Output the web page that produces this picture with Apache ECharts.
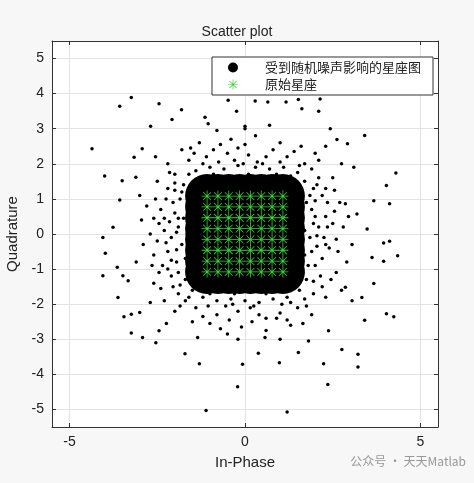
<!DOCTYPE html><html><head><meta charset="utf-8"><script src="https://cdn.jsdelivr.net/npm/echarts@6/dist/echarts.min.js"></script>
<style>html,body{margin:0;padding:0;background:#f7f7f7}#c{width:474px;height:483px}</style></head><body><div id="c"></div><script>
const levels=[-7,-5,-3,-1,1,3,5,7].map(k=>k/Math.sqrt(42));
const constellation=[];levels.forEach(a=>levels.forEach(b=>constellation.push([a,b])));
const xTicks=[-5,0,5];
const yTicks=[-5,-4,-3,-2,-1,0,1,2,3,4,5];
const ringPoints=[[-1.9,0.2],[-1.8,-0.3],[-2.0,0.6],[-1.85,1.0],[-1.95,-0.8],[-1.75,1.4],[-1.7,-1.3],[-2.1,-0.1],[-2.05,0.9],[-1.9,-1.1],[-1.6,1.7],[-1.4,1.8],[-1.0,1.9],[-0.6,1.85],[-0.2,1.95],[0.3,1.9],[0.7,1.85],[1.1,1.9],[1.5,1.75],[1.7,1.5],[1.85,1.1],[1.9,0.7],[1.95,0.3],[1.85,-0.1],[1.9,-0.5],[1.8,-0.9],[1.75,-1.3],[1.55,-1.6],[1.2,-1.8],[0.8,-1.85],[0.4,-1.95],[0.0,-1.9],[-0.4,-1.85],[-0.8,-1.9],[-1.2,-1.8],[-1.5,-1.6],
[-1.75,0.45],[-1.7,-0.7],[-1.8,1.2],[-1.65,0.0],[1.7,0.1],[1.75,0.9],[1.7,-0.6],[1.65,-1.1],[-0.9,1.7],[0.1,1.7],[0.9,1.7],[-0.3,-1.7],[0.6,-1.7],[-1.0,-1.7],[1.3,1.65],[-1.3,1.6],[1.4,-1.45],[-1.35,-1.5],
[-2.3,0.1],[-2.2,-0.5],[-2.4,0.7],[-2.2,1.3],[-2.1,-1.2],[-2.0,1.7],[-1.9,-1.7],[-2.35,-0.9],[-2.45,0.3],[-1.6,2.1],[-1.1,2.2],[-0.5,2.3],[0.1,2.25],[0.6,2.2],[1.2,2.2],[1.7,2.0],[2.1,1.6],[2.2,1.1],[2.3,0.5],[2.25,-0.1],[2.2,-0.7],[2.15,-1.2],[1.95,-1.7],[1.5,-2.1],[1.0,-2.25],[0.4,-2.3],[-0.2,-2.2],[-0.8,-2.3],[-1.4,-2.1],[-2.25,1.0],[-2.05,-1.5],[2.05,1.4],[2.4,-0.4],[-0.9,2.4],[0.9,-2.4],[2.35,0.9],
[-2.15,0.35],[-2.1,-0.75],[2.1,0.2],[2.05,-0.35],[-0.3,2.1],[0.35,2.05],[-0.55,-2.05],[0.15,-2.1],[2.0,0.95],[-2.0,1.25],[1.3,-1.95],[-1.7,-1.9],
[-2.7,0.0],[-2.6,-0.6],[-2.8,0.8],[-2.5,1.5],[-2.6,-1.4],[-2.2,2.0],[-2.3,-1.9],[-1.8,2.4],[-1.3,2.6],[-0.4,2.7],[0.3,2.8],[1.0,2.6],[1.6,2.5],[2.1,2.1],[2.5,1.6],[2.7,0.9],[2.8,0.2],[2.65,-0.5],[2.6,-1.1],[2.3,-1.8],[1.9,-2.3],[1.3,-2.6],[0.6,-2.75],[-0.1,-2.65],[-0.7,-2.7],[-1.5,-2.5],[-2.0,-2.2],[-2.9,-0.3],[-2.95,0.4],[2.9,-0.8],[2.95,0.5],[0.0,3.0],[-0.2,-3.0],
[-2.5,-0.2],[-2.55,1.0],[2.5,0.3],[2.45,-1.3],[-1.0,-2.55],[0.2,-2.5],[1.4,2.35],[-0.7,2.55],[2.55,1.25],[-2.45,-1.1],
[-1.95,0.05],[-1.9,0.45],[-1.95,-0.45],[-2.0,1.45],[-1.85,-1.45],[-1.2,2.0],[-0.75,2.05],[-0.05,2.0],[0.5,2.0],[1.0,2.05],[1.55,1.95],[1.95,1.3],[2.0,0.5],[2.05,-0.05],[2.0,-0.9],[1.95,-1.35],[1.7,-1.85],[1.05,-2.0],[0.25,-2.05],[-0.35,-2.0],[-1.05,-2.05],[-1.6,-1.8],[-2.2,-1.0],[-2.3,0.45],[-2.25,-0.25],[2.3,-0.3],[2.35,0.2],[2.3,1.3],[-0.2,2.45],[0.8,2.4],[-1.45,2.3],[0.6,-2.4],[-0.45,-2.45],[-1.2,-2.35],[1.75,-2.05],[2.2,-1.5],[-2.4,-1.55],[-2.6,0.45],[2.6,-0.15],[-2.15,1.75],[1.9,1.85],[-1.85,-2.05],[0.0,2.55],[1.2,-2.45],[2.55,0.65],[-2.65,-0.9],[-1.55,2.45],[2.0,2.3],[-0.5,-2.85],[1.65,-2.55],[-3.0,1.1],[3.05,-0.3],[-0.8,2.95],[0.7,3.1],[-3.1,-0.8],[2.75,-1.6],[-2.7,-1.95],[2.3,2.5],[-2.55,2.2],[1.0,-3.0],[-1.35,-2.95],[2.75,2.0]];
const outliers=[[-3.57,3.64],[-3.24,3.89],[-2.45,3.71],[-2.69,3.07],[-2.08,3.26],[-1.81,3.54],[-4.36,2.43],[-4.0,1.65],[-0.48,3.81],[0.29,3.79],[0.65,3.76],[1.17,3.76],[1.52,3.83],[2.14,3.85],[1.62,3.57],[2.10,3.5],[3.41,2.81],[4.30,1.74],[4.03,1.38],[4.12,0.86],[4.35,-0.62],[3.95,-0.26],[4.12,-0.21],[3.95,-0.78],[3.67,-1.41],[4.03,-2.27],[4.24,-2.36],[3.41,-2.46],[3.22,-3.43],[3.22,-3.79],[2.36,-4.29],[2.24,-3.70],[1.2,-5.07],[-1.11,-5.03],[-0.21,-4.35],[-1.30,-3.70],[-1.71,-3.41],[-2.54,-3.10],[-2.92,-2.95],[-3.24,-2.82],[-3.45,-2.36],[-4.05,-1.19],[-3.98,-0.55],[-4.05,-0.1],[-3.76,0.19],[-3.57,0.97],[-3.64,-0.95],[-3.48,-1.19],[-3.33,-1.33],[-3.62,-1.81],[-0.07,-3.71],[0.98,-3.67],[2.76,-3.29],[3.62,-0.67],[3.67,0.95],[3.48,0.14],[3.10,1.90],[2.92,2.57],[2.62,2.69],[2.43,3.0],[-1.14,3.33],[-1.05,3.14],[-0.24,3.5],[0,3.07],[-3.16,2.19],[-2.93,2.43],[-3.50,1.52],[-3.11,1.62],[3.33,-1.81],[3.05,-1.90],[2.86,-1.52],[2.86,0.86],[3.19,0.57],[-3.24,-2.29],[-3.0,-2.24],[-2.45,-2.76],[-2.24,-2.55],[0.38,-3.4],[0.57,-2.95],[1.52,-3.38],[1.81,-3.05],[2.38,-2.76]];
const star='path://M-1,-0.07L1,-0.07L1,0.07L-1,0.07ZM-0.07,-1L0.07,-1L0.07,1L-0.07,1ZM-0.76,-0.66L-0.66,-0.76L0.76,0.66L0.66,0.76ZM0.66,-0.76L0.76,-0.66L-0.66,0.76L-0.76,0.66Z';
const ch=echarts.init(document.getElementById('c'));
const lbl={color:'#222',fontSize:14,fontFamily:'Arial'};
const ax=(pos,show,ticks)=>({type:'value',position:pos,min:-5.5,max:5.5,
 axisLine:{show:true,onZero:false,lineStyle:{color:'#333'}},
 axisTick:{show:true,inside:true,length:4,lineStyle:{color:'#333'},customValues:ticks},
 axisLabel:{show:show,...lbl,customValues:ticks},
 splitLine:{show:show,lineStyle:{color:'#e3e3e3'}}});
const xA=ax('bottom',true,xTicks);xA.name='In-Phase';xA.nameLocation='middle';xA.nameGap=28;xA.nameTextStyle={...lbl,fontSize:15};
const yA=ax('left',true,yTicks);yA.name='Quadrature';yA.nameLocation='middle';yA.nameGap=26;yA.nameTextStyle={...lbl,fontSize:15};
ch.setOption({backgroundColor:'#f7f7f7',animation:false,
 title:{text:'Scatter plot',left:'center',top:20,textStyle:{fontSize:14,fontWeight:'normal',color:'#222',fontFamily:'Arial'}},
 grid:{left:52,right:36,top:41,bottom:56,show:true,backgroundColor:'#fff',borderWidth:0,outerBoundsMode:'none',containLabel:false},
 xAxis:[xA,ax('top',false,xTicks)],
 yAxis:[yA,ax('right',false,yTicks)],
 legend:{orient:'vertical',right:41,top:57,padding:[4,12,4,16],itemGap:4,itemWidth:10,itemHeight:10,backgroundColor:'#fff',borderColor:'#333',borderWidth:1,borderRadius:0,
  textStyle:{fontSize:13,color:'#222',fontFamily:'Noto Sans CJK SC',padding:[0,0,0,22]},
  data:[{name:'受到随机噪声影响的星座图',icon:'circle',itemStyle:{color:'#000'}},{name:'原始星座',icon:star,itemStyle:{color:'#3ad13a'}}]},
 series:[
  {name:'受到随机噪声影响的星座图',type:'scatter',data:constellation,symbol:'circle',symbolSize:44,itemStyle:{color:'#000',opacity:1},silent:true},
  {name:'受到随机噪声影响的星座图',type:'scatter',data:ringPoints.concat(outliers),symbolSize:3.5,itemStyle:{color:'#000',opacity:1}},
  {name:'原始星座',type:'scatter',data:constellation,symbol:star,symbolSize:11,itemStyle:{color:'#3ad13a',opacity:1},z:5}],
 graphic:[{type:'text',right:8,top:455,style:{text:'公众号 · 天天Matlab',fontSize:12,fill:'#999',fontFamily:'Noto Sans CJK SC'}}]
});
</script></body></html>
